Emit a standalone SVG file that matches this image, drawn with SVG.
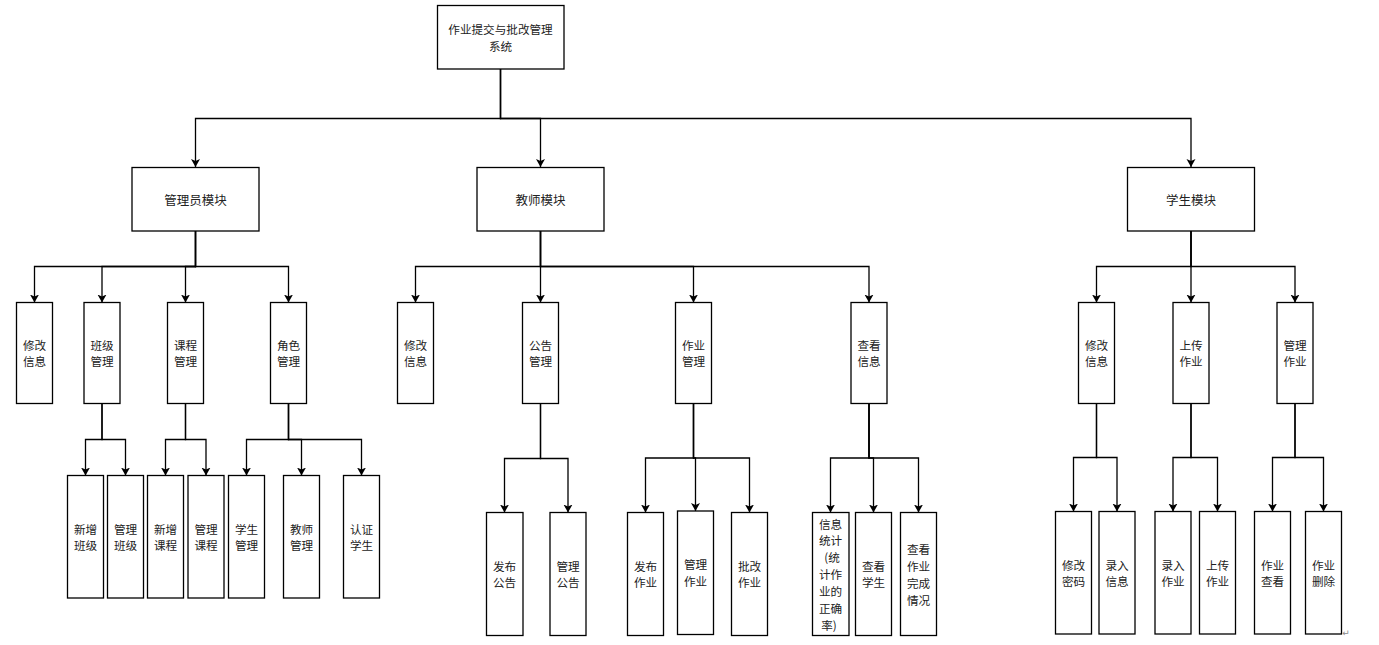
<svg xmlns="http://www.w3.org/2000/svg" width="1379" height="645" viewBox="0 0 1379 645">
<style>
.box{fill:#fff;stroke:#000;stroke-width:1.3}
.t{font-family:"Noto Sans CJK SC","Noto Sans",sans-serif;font-size:11.6px;fill:#222;text-anchor:middle;dominant-baseline:central}
.w{font-size:12.5px}
.c{fill:none;stroke:#000;stroke-width:1.3}
</style>
<defs>
<marker id="arr" markerUnits="userSpaceOnUse" markerWidth="10" markerHeight="10" refX="8" refY="4.5" orient="auto">
<path d="M0,0 L8,4.5 L0,9 L2,4.5 Z" fill="#000"/>
</marker>
</defs>
<rect width="1379" height="645" fill="#fff"/>
<g id="connectors">
<path class="c" marker-end="url(#arr)" d="M500.5,69 V118.5 H195.5 V167"/>
<path class="c" marker-end="url(#arr)" d="M500.5,69 V118.5 H540.5 V167"/>
<path class="c" marker-end="url(#arr)" d="M500.5,69 V118.5 H1191 V167"/>
<path class="c" marker-end="url(#arr)" d="M195.5,231 V266.5 H34.5 V302.5"/>
<path class="c" marker-end="url(#arr)" d="M195.5,231 V266.5 H102 V302.5"/>
<path class="c" marker-end="url(#arr)" d="M195.5,231 V266.5 H185.5 V302.5"/>
<path class="c" marker-end="url(#arr)" d="M195.5,231 V266.5 H288.5 V302.5"/>
<path class="c" marker-end="url(#arr)" d="M540.5,231 V266.5 H415.5 V302.5"/>
<path class="c" marker-end="url(#arr)" d="M540.5,231 V302.5"/>
<path class="c" marker-end="url(#arr)" d="M540.5,231 V266.5 H693.5 V302.5"/>
<path class="c" marker-end="url(#arr)" d="M540.5,231 V266.5 H869 V302.5"/>
<path class="c" marker-end="url(#arr)" d="M1191,231 V266.5 H1096.5 V302.5"/>
<path class="c" marker-end="url(#arr)" d="M1191,231 V302.5"/>
<path class="c" marker-end="url(#arr)" d="M1191,231 V266.5 H1295 V302.5"/>
<path class="c" marker-end="url(#arr)" d="M102,403.5 V439.5 H85.5 V475.5"/>
<path class="c" marker-end="url(#arr)" d="M102,403.5 V439.5 H125.5 V475.5"/>
<path class="c" marker-end="url(#arr)" d="M185.5,403.5 V439.5 H165.5 V475.5"/>
<path class="c" marker-end="url(#arr)" d="M185.5,403.5 V439.5 H206 V475.5"/>
<path class="c" marker-end="url(#arr)" d="M288.5,403.5 V439.5 H246.5 V475.5"/>
<path class="c" marker-end="url(#arr)" d="M288.5,403.5 V439.5 H301.5 V475.5"/>
<path class="c" marker-end="url(#arr)" d="M288.5,403.5 V439.5 H361.5 V475.5"/>
<path class="c" marker-end="url(#arr)" d="M540.5,403.5 V458.5 H504.5 V512.5"/>
<path class="c" marker-end="url(#arr)" d="M540.5,403.5 V458.5 H568 V512.5"/>
<path class="c" marker-end="url(#arr)" d="M693.5,403.5 V458 H645.5 V512.5"/>
<path class="c" marker-end="url(#arr)" d="M693.5,403.5 V458 H695.5 V511"/>
<path class="c" marker-end="url(#arr)" d="M693.5,403.5 V458 H749.5 V512.5"/>
<path class="c" marker-end="url(#arr)" d="M869,403.5 V458 H830.5 V512.5"/>
<path class="c" marker-end="url(#arr)" d="M869,403.5 V458 H873.5 V512.5"/>
<path class="c" marker-end="url(#arr)" d="M869,403.5 V458 H918.5 V512.5"/>
<path class="c" marker-end="url(#arr)" d="M1096.5,403.5 V457.5 H1073.5 V511.5"/>
<path class="c" marker-end="url(#arr)" d="M1096.5,403.5 V457.5 H1117 V511.5"/>
<path class="c" marker-end="url(#arr)" d="M1191,403.5 V457.5 H1173 V511.5"/>
<path class="c" marker-end="url(#arr)" d="M1191,403.5 V457.5 H1217.5 V511.5"/>
<path class="c" marker-end="url(#arr)" d="M1295,403.5 V457.5 H1272.5 V511.5"/>
<path class="c" marker-end="url(#arr)" d="M1295,403.5 V457.5 H1323.5 V511.5"/>
</g>
<g id="root"><rect class="box" x="437.5" y="5.5" width="126.5" height="63.5"/><text class="t" x="500.5" y="29">作业提交与批改管理<tspan x="500.5" dy="16.9">系统</tspan></text></g>
<g id="admin"><rect class="box" x="132" y="167.5" width="127" height="63.5"/><text class="t w" x="195.5" y="199">管理员模块</text></g>
<g id="teacher"><rect class="box" x="477" y="167.5" width="127" height="63.5"/><text class="t w" x="540.5" y="199">教师模块</text></g>
<g id="student"><rect class="box" x="1127.5" y="167.5" width="127" height="63.5"/><text class="t w" x="1191" y="199">学生模块</text></g>

<g id="a_xgxx"><rect class="box" x="16.5" y="302.5" width="36" height="101"/><text class="t" x="34.5" y="344.5">修改<tspan x="34.5" dy="16.9">信息</tspan></text></g>
<g id="a_bjgl"><rect class="box" x="84" y="302.5" width="36" height="101"/><text class="t" x="102" y="344.5">班级<tspan x="102" dy="16.9">管理</tspan></text></g>
<g id="a_kcgl"><rect class="box" x="167.5" y="302.5" width="36" height="101"/><text class="t" x="185.5" y="344.5">课程<tspan x="185.5" dy="16.9">管理</tspan></text></g>
<g id="a_jsgl"><rect class="box" x="270.5" y="302.5" width="36" height="101"/><text class="t" x="288.5" y="344.5">角色<tspan x="288.5" dy="16.9">管理</tspan></text></g>

<g id="t_xgxx"><rect class="box" x="397.5" y="302.5" width="36" height="101"/><text class="t" x="415.5" y="344.5">修改<tspan x="415.5" dy="16.9">信息</tspan></text></g>
<g id="t_gggl"><rect class="box" x="522.5" y="302.5" width="36" height="101"/><text class="t" x="540.5" y="344.5">公告<tspan x="540.5" dy="16.9">管理</tspan></text></g>
<g id="t_zygl"><rect class="box" x="675.5" y="302.5" width="36" height="101"/><text class="t" x="693.5" y="344.5">作业<tspan x="693.5" dy="16.9">管理</tspan></text></g>
<g id="t_ckxx"><rect class="box" x="851" y="302.5" width="36" height="101"/><text class="t" x="869" y="344.5">查看<tspan x="869" dy="16.9">信息</tspan></text></g>

<g id="s_xgxx"><rect class="box" x="1078.5" y="302.5" width="36" height="101"/><text class="t" x="1096.5" y="344.5">修改<tspan x="1096.5" dy="16.9">信息</tspan></text></g>
<g id="s_sczy"><rect class="box" x="1173" y="302.5" width="36" height="101"/><text class="t" x="1191" y="344.5">上传<tspan x="1191" dy="16.9">作业</tspan></text></g>
<g id="s_glzy"><rect class="box" x="1277" y="302.5" width="36" height="101"/><text class="t" x="1295" y="344.5">管理<tspan x="1295" dy="16.9">作业</tspan></text></g>

<g id="a_xzbj"><rect class="box" x="67.5" y="475.5" width="36" height="122.5"/><text class="t" x="85.5" y="528.5">新增<tspan x="85.5" dy="16.9">班级</tspan></text></g>
<g id="a_glbj"><rect class="box" x="107.5" y="475.5" width="36" height="122.5"/><text class="t" x="125.5" y="528.5">管理<tspan x="125.5" dy="16.9">班级</tspan></text></g>
<g id="a_xzkc"><rect class="box" x="147.5" y="475.5" width="36" height="122.5"/><text class="t" x="165.5" y="528.5">新增<tspan x="165.5" dy="16.9">课程</tspan></text></g>
<g id="a_glkc"><rect class="box" x="188" y="475.5" width="36" height="122.5"/><text class="t" x="206" y="528.5">管理<tspan x="206" dy="16.9">课程</tspan></text></g>
<g id="a_xsgl"><rect class="box" x="228.5" y="475.5" width="36" height="122.5"/><text class="t" x="246.5" y="528.5">学生<tspan x="246.5" dy="16.9">管理</tspan></text></g>
<g id="a_jsgl2"><rect class="box" x="283.5" y="475.5" width="36" height="122.5"/><text class="t" x="301.5" y="528.5">教师<tspan x="301.5" dy="16.9">管理</tspan></text></g>
<g id="a_rzxs"><rect class="box" x="343.5" y="475.5" width="36" height="122.5"/><text class="t" x="361.5" y="528.5">认证<tspan x="361.5" dy="16.9">学生</tspan></text></g>

<g id="t_fbgg"><rect class="box" x="486.5" y="512.5" width="36.5" height="123"/><text class="t" x="504.5" y="565.5">发布<tspan x="504.5" dy="16.9">公告</tspan></text></g>
<g id="t_glgg"><rect class="box" x="550" y="512.5" width="36" height="123"/><text class="t" x="568" y="565.5">管理<tspan x="568" dy="16.9">公告</tspan></text></g>
<g id="t_fbzy"><rect class="box" x="627.5" y="512.5" width="36" height="123"/><text class="t" x="645.5" y="565.5">发布<tspan x="645.5" dy="16.9">作业</tspan></text></g>
<g id="t_glzy"><rect class="box" x="677.5" y="511" width="36" height="123.5"/><text class="t" x="695.5" y="564">管理<tspan x="695.5" dy="16.9">作业</tspan></text></g>
<g id="t_pgzy"><rect class="box" x="731.5" y="512.5" width="36" height="123"/><text class="t" x="749.5" y="565.5">批改<tspan x="749.5" dy="16.9">作业</tspan></text></g>
<g id="t_xxtj"><rect class="box" x="812.5" y="512.5" width="36.5" height="123"/><text class="t" x="830.5" y="523.5">信息<tspan x="830.5" dy="16.9">统计</tspan><tspan x="832" dy="16.9">(统</tspan><tspan x="830.5" dy="16.9">计作</tspan><tspan x="830.5" dy="16.9">业的</tspan><tspan x="830.5" dy="16.9">正确</tspan><tspan x="829" dy="16.9">率)</tspan></text></g>
<g id="t_ckxs"><rect class="box" x="855.5" y="512.5" width="36" height="123"/><text class="t" x="873.5" y="565.5">查看<tspan x="873.5" dy="16.9">学生</tspan></text></g>
<g id="t_ckzywc"><rect class="box" x="900.5" y="512.5" width="36" height="123"/><text class="t" x="918.5" y="549">查看<tspan x="918.5" dy="16.9">作业</tspan><tspan x="918.5" dy="16.9">完成</tspan><tspan x="918.5" dy="16.9">情况</tspan></text></g>

<g id="s_xgmm"><rect class="box" x="1055.5" y="511.5" width="36" height="122.5"/><text class="t" x="1073.5" y="564.5">修改<tspan x="1073.5" dy="16.9">密码</tspan></text></g>
<g id="s_lrxx"><rect class="box" x="1099" y="511.5" width="36" height="122.5"/><text class="t" x="1117" y="564.5">录入<tspan x="1117" dy="16.9">信息</tspan></text></g>
<g id="s_lrzy"><rect class="box" x="1155" y="511.5" width="36" height="122.5"/><text class="t" x="1173" y="564.5">录入<tspan x="1173" dy="16.9">作业</tspan></text></g>
<g id="s_sczy2"><rect class="box" x="1199.5" y="511.5" width="36" height="122.5"/><text class="t" x="1217.5" y="564.5">上传<tspan x="1217.5" dy="16.9">作业</tspan></text></g>
<g id="s_zyck"><rect class="box" x="1254.5" y="511.5" width="36" height="122.5"/><text class="t" x="1272.5" y="564.5">作业<tspan x="1272.5" dy="16.9">查看</tspan></text></g>
<g id="s_zysc"><rect class="box" x="1305.5" y="511.5" width="36" height="122.5"/><text class="t" x="1323.5" y="564.5">作业<tspan x="1323.5" dy="16.9">删除</tspan></text></g>
<text x="1346" y="633" font-family="DejaVu Sans,sans-serif" font-size="9" fill="#888" text-anchor="middle" dominant-baseline="central">↵</text>
</svg>
